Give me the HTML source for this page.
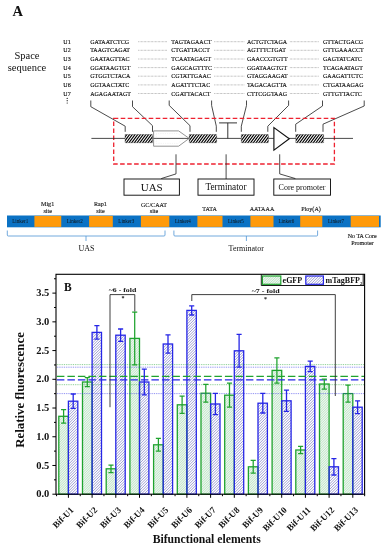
<!DOCTYPE html>
<html><head><meta charset="utf-8"><title>Figure</title>
<style>html,body{margin:0;padding:0;background:#fff}svg{display:block}text{font-family:"Liberation Serif", serif;fill:#111}</style>
</head><body>
<svg width="384" height="550" viewBox="0 0 384 550">
<defs>
</defs>
<rect width="384" height="550" fill="#fff"/>
<text x="12.5" y="15.8" font-size="14.5" font-weight="bold">A</text>
<text x="27" y="59.4" font-size="10.5" text-anchor="middle">Space</text>
<text x="27" y="70.8" font-size="10.5" text-anchor="middle">sequence</text>
<g font-size="6" stroke="#111" stroke-width="0.15">
<text x="63.3" y="43.8">U1</text>
<text x="63.3" y="52.4">U2</text>
<text x="63.3" y="61.1">U3</text>
<text x="63.3" y="69.7">U4</text>
<text x="63.3" y="78.3">U5</text>
<text x="63.3" y="87.0">U6</text>
<text x="63.3" y="95.6">U7</text>
<text x="90.2" y="43.8">GATAATCTCG</text>
<text x="90.2" y="52.4">TAAGTCAGAT</text>
<text x="90.2" y="61.1">GAATAGTTAC</text>
<text x="90.2" y="69.7">GGATAAGTGT</text>
<text x="90.2" y="78.3">GTGGTCTACA</text>
<text x="90.2" y="87.0">GGTAACTATC</text>
<text x="90.2" y="95.6">AGAGAATAGT</text>
<text x="171.3" y="43.8">TAGTAGAACT</text>
<text x="171.3" y="52.4">CTGATTACCT</text>
<text x="171.3" y="61.1">TCAATAGAGT</text>
<text x="171.3" y="69.7">GAGCAGTTTC</text>
<text x="171.3" y="78.3">CGTATTGAAC</text>
<text x="171.3" y="87.0">AGATTTCTAC</text>
<text x="171.3" y="95.6">CGATTACACT</text>
<text x="246.9" y="43.8">ACTGTCTAGA</text>
<text x="246.9" y="52.4">AGTTTCTGAT</text>
<text x="246.9" y="61.1">GAACCGTGTT</text>
<text x="246.9" y="69.7">GGATAAGTGT</text>
<text x="246.9" y="78.3">GTAGGAAGAT</text>
<text x="246.9" y="87.0">TAGACAGTTA</text>
<text x="246.9" y="95.6">CTTCGGTAAG</text>
<text x="323.0" y="43.8">GTTACTGACG</text>
<text x="323.0" y="52.4">GTTGAAACCT</text>
<text x="323.0" y="61.1">GAGTATCATC</text>
<text x="323.0" y="69.7">TCAGAATAGT</text>
<text x="323.0" y="78.3">GAAGATTCTC</text>
<text x="323.0" y="87.0">CTGATAAGAG</text>
<text x="323.0" y="95.6">GTTGTTACTC</text>
</g>
<g fill="#111"><circle cx="67.2" cy="98.4" r="0.6"/><circle cx="67.2" cy="100.7" r="0.6"/><circle cx="67.2" cy="103" r="0.6"/></g>
<g stroke="#777" stroke-width="0.6" stroke-dasharray="0.7 0.7">
<path d="M138.3 41.7H167.5"/>
<path d="M214.3 41.7H244.3"/>
<path d="M289.9 41.7H319.2"/>
<path d="M138.3 50.3H167.5"/>
<path d="M214.3 50.3H244.3"/>
<path d="M289.9 50.3H319.2"/>
<path d="M138.3 59.0H167.5"/>
<path d="M214.3 59.0H244.3"/>
<path d="M289.9 59.0H319.2"/>
<path d="M138.3 67.6H167.5"/>
<path d="M214.3 67.6H244.3"/>
<path d="M289.9 67.6H319.2"/>
<path d="M138.3 76.2H167.5"/>
<path d="M214.3 76.2H244.3"/>
<path d="M289.9 76.2H319.2"/>
<path d="M138.3 84.9H167.5"/>
<path d="M214.3 84.9H244.3"/>
<path d="M289.9 84.9H319.2"/>
<path d="M138.3 93.5H167.5"/>
<path d="M214.3 93.5H244.3"/>
<path d="M289.9 93.5H319.2"/>
</g>
<g fill="none" stroke="#2a2a2a" stroke-width="0.85">
<path d="M90.8 100.5V106.7L125.2 126.2V131.8"/>
<path d="M132.5 100.5V106.7L152.5 125.7V131.8"/>
<path d="M169.2 100.5V105.4L190.0 125.7V131.8"/>
<path d="M211.6 100.5V105.4L216.3 126.2V131.8"/>
<path d="M246.5 100.5V105.4L241.3 126.2V131.8"/>
<path d="M288.6 100.5V105.4L267.8 126.2V131.8"/>
<path d="M322.5 100.5V106.0L295.7 124.2V131.8"/>
<path d="M364.2 100.5V106.0L323.0 124.2V131.8"/>
</g>
<rect x="113.7" y="118.4" width="220.7" height="45.6" fill="none" stroke="#ee2230" stroke-width="1.3" stroke-dasharray="4.6 2.4"/>
<path d="M91.4 138.4H353" stroke="#2a2a2a" stroke-width="0.85"/>
<clipPath id="ck0"><rect x="125.1" y="134.6" width="27.4" height="8.1"/></clipPath>
<rect x="125.1" y="134.6" width="27.4" height="8.1" fill="#fff"/>
<path d="M117.36 143.7L124.84 133.6M120.08 143.7L127.56 133.6M122.80 143.7L130.28 133.6M125.52 143.7L133.00 133.6M128.24 143.7L135.72 133.6M130.96 143.7L138.44 133.6M133.68 143.7L141.16 133.6M136.40 143.7L143.88 133.6M139.12 143.7L146.60 133.6M141.84 143.7L149.32 133.6M144.56 143.7L152.04 133.6M147.28 143.7L154.76 133.6M150.00 143.7L157.48 133.6M152.72 143.7L160.20 133.6" stroke="#000" stroke-width="1.15" clip-path="url(#ck0)"/>
<rect x="125.1" y="134.6" width="27.4" height="8.1" fill="none" stroke="#111" stroke-width="0.5" stroke-dasharray="0.8 0.5"/>
<clipPath id="ck1"><rect x="189.3" y="134.6" width="27.3" height="8.1"/></clipPath>
<rect x="189.3" y="134.6" width="27.3" height="8.1" fill="#fff"/>
<path d="M181.56 143.7L189.04 133.6M184.28 143.7L191.76 133.6M187.00 143.7L194.48 133.6M189.72 143.7L197.20 133.6M192.44 143.7L199.92 133.6M195.16 143.7L202.64 133.6M197.88 143.7L205.36 133.6M200.60 143.7L208.08 133.6M203.32 143.7L210.80 133.6M206.04 143.7L213.52 133.6M208.76 143.7L216.24 133.6M211.48 143.7L218.96 133.6M214.20 143.7L221.68 133.6" stroke="#000" stroke-width="1.15" clip-path="url(#ck1)"/>
<rect x="189.3" y="134.6" width="27.3" height="8.1" fill="none" stroke="#111" stroke-width="0.5" stroke-dasharray="0.8 0.5"/>
<clipPath id="ck2"><rect x="241.3" y="134.6" width="27.1" height="8.1"/></clipPath>
<rect x="241.3" y="134.6" width="27.1" height="8.1" fill="#fff"/>
<path d="M233.56 143.7L241.04 133.6M236.28 143.7L243.76 133.6M239.00 143.7L246.48 133.6M241.72 143.7L249.20 133.6M244.44 143.7L251.92 133.6M247.16 143.7L254.64 133.6M249.88 143.7L257.36 133.6M252.60 143.7L260.08 133.6M255.32 143.7L262.80 133.6M258.04 143.7L265.52 133.6M260.76 143.7L268.24 133.6M263.48 143.7L270.96 133.6M266.20 143.7L273.68 133.6" stroke="#000" stroke-width="1.15" clip-path="url(#ck2)"/>
<rect x="241.3" y="134.6" width="27.1" height="8.1" fill="none" stroke="#111" stroke-width="0.5" stroke-dasharray="0.8 0.5"/>
<clipPath id="ck3"><rect x="295.8" y="134.6" width="27.8" height="8.1"/></clipPath>
<rect x="295.8" y="134.6" width="27.8" height="8.1" fill="#fff"/>
<path d="M288.06 143.7L295.54 133.6M290.78 143.7L298.26 133.6M293.50 143.7L300.98 133.6M296.22 143.7L303.70 133.6M298.94 143.7L306.42 133.6M301.66 143.7L309.14 133.6M304.38 143.7L311.86 133.6M307.10 143.7L314.58 133.6M309.82 143.7L317.30 133.6M312.54 143.7L320.02 133.6M315.26 143.7L322.74 133.6M317.98 143.7L325.46 133.6M320.70 143.7L328.18 133.6M323.42 143.7L330.90 133.6" stroke="#000" stroke-width="1.15" clip-path="url(#ck3)"/>
<rect x="295.8" y="134.6" width="27.8" height="8.1" fill="none" stroke="#111" stroke-width="0.5" stroke-dasharray="0.8 0.5"/>
<path d="M153.6 130.9H178.6L189.2 138.4L178.6 146.2H153.6Z" fill="none" stroke="#777" stroke-width="0.8"/>
<path d="M156.3 133.6H177.8L184.6 138.4L177.8 143.4H156.3Z" fill="none" stroke="#ccc" stroke-width="0.35" stroke-dasharray="0.6 1.2"/>
<path d="M219.1 122.9H237M227.8 122.9V138.5" stroke="#2a2a2a" stroke-width="0.95" fill="none"/>
<path d="M273.9 127.6V150.2L289.3 138.7Z" fill="#fff" stroke="#111" stroke-width="1.15"/>
<g fill="none" stroke="#2a2a2a" stroke-width="0.85">
<path d="M176 154.3V173.9L161.2 178.6"/>
<path d="M226.1 154.3V179"/>
<path d="M279.7 154.3V173.9L295.4 178.6"/>
</g>
<g fill="#fff" stroke="#111" stroke-width="0.95">
<rect x="124" y="179" width="55.4" height="16.2"/>
<rect x="198" y="179" width="56" height="16.2"/>
<rect x="273.8" y="179" width="56.7" height="16.2"/>
</g>
<text x="151.7" y="191" font-size="11" text-anchor="middle">UAS</text>
<text x="226" y="190.2" font-size="9.3" text-anchor="middle">Terminator</text>
<text x="302" y="189.8" font-size="8" text-anchor="middle">Core promoter</text>
<rect x="7" y="215.5" width="373.7" height="11.8" fill="#0b72c4"/>
<rect x="34.40" y="215.9" width="26.85" height="11" fill="#ff9a0a"/>
<rect x="89.10" y="215.9" width="23.70" height="11" fill="#ff9a0a"/>
<rect x="140.90" y="215.9" width="28.40" height="11" fill="#ff9a0a"/>
<rect x="197.40" y="215.9" width="25.10" height="11" fill="#ff9a0a"/>
<rect x="250.40" y="215.9" width="23.10" height="11" fill="#ff9a0a"/>
<rect x="300.20" y="215.9" width="22.10" height="11" fill="#ff9a0a"/>
<rect x="350.70" y="215.9" width="28.30" height="11" fill="#ff9a0a"/>
<g font-size="5.3" text-anchor="middle">
<text x="20.2" y="223.1" fill="#06224a" textLength="16" lengthAdjust="spacingAndGlyphs">Linker1</text>
<text x="74.7" y="223.1" fill="#06224a" textLength="16" lengthAdjust="spacingAndGlyphs">Linker2</text>
<text x="126.3" y="223.1" fill="#06224a" textLength="16" lengthAdjust="spacingAndGlyphs">Linker3</text>
<text x="182.9" y="223.1" fill="#06224a" textLength="16" lengthAdjust="spacingAndGlyphs">Linker4</text>
<text x="235.9" y="223.1" fill="#06224a" textLength="16" lengthAdjust="spacingAndGlyphs">Linker5</text>
<text x="286.4" y="223.1" fill="#06224a" textLength="16" lengthAdjust="spacingAndGlyphs">Linker6</text>
<text x="336.0" y="223.1" fill="#06224a" textLength="16" lengthAdjust="spacingAndGlyphs">Linker7</text>
</g>
<g font-size="6.1" text-anchor="middle" stroke="#111" stroke-width="0.12">
<text x="47.6" y="206">Mig1</text><text x="47.7" y="212.7">site</text>
<text x="100.4" y="205.6">Rap1</text><text x="100.4" y="212.6">site</text>
<text x="154" y="207">GC/CAAT</text><text x="154" y="213.4">site</text>
<text x="209.5" y="211">TATA</text>
<text x="262" y="211.3">AATAAA</text>
<text x="311" y="211">Ploy(A)</text>
<text x="362.2" y="238" font-size="6">No TA Core</text><text x="362.4" y="245.1" font-size="6">Promoter</text>
</g>
<g fill="none" stroke="#4f94d4" stroke-width="0.8">
<path d="M7.3 230.5V235Q7.3 236 8.3 236H164Q165 236 165 235V230.5M86 236V241"/>
<path d="M173.9 230.5V235Q173.9 236 174.9 236H316.6Q317.6 236 317.6 235V230.5M246.4 236V241"/>
</g>
<text x="86.5" y="251.3" font-size="8" text-anchor="middle">UAS</text>
<text x="246.3" y="251.3" font-size="8" text-anchor="middle">Terminator</text>
<clipPath id="cg"><rect x="58.80" y="416.3" width="9.60" height="77.9"/><rect x="82.50" y="382.0" width="9.60" height="112.2"/><rect x="106.20" y="468.8" width="9.60" height="25.4"/><rect x="129.90" y="338.4" width="9.60" height="155.8"/><rect x="153.60" y="444.8" width="9.60" height="49.4"/><rect x="177.30" y="404.8" width="9.60" height="89.4"/><rect x="201.00" y="393.2" width="9.60" height="101.0"/><rect x="224.70" y="395.2" width="9.60" height="99.0"/><rect x="248.40" y="466.8" width="9.60" height="27.4"/><rect x="272.10" y="370.4" width="9.60" height="123.8"/><rect x="295.80" y="450.0" width="9.60" height="44.2"/><rect x="319.50" y="384.0" width="9.60" height="110.2"/><rect x="343.20" y="393.6" width="9.60" height="100.6"/><rect x="262.4" y="276" width="18.4" height="8.3"/></clipPath><clipPath id="cb"><rect x="68.40" y="401.2" width="9.40" height="93.0"/><rect x="92.10" y="332.4" width="9.40" height="161.8"/><rect x="115.80" y="335.2" width="9.40" height="159.0"/><rect x="139.50" y="382.0" width="9.40" height="112.2"/><rect x="163.20" y="344.0" width="9.40" height="150.2"/><rect x="186.90" y="310.4" width="9.40" height="183.8"/><rect x="210.60" y="404.0" width="9.40" height="90.2"/><rect x="234.30" y="350.8" width="9.40" height="143.4"/><rect x="258.00" y="403.2" width="9.40" height="91.0"/><rect x="281.70" y="400.8" width="9.40" height="93.4"/><rect x="305.40" y="366.4" width="9.40" height="127.8"/><rect x="329.10" y="466.8" width="9.40" height="27.4"/><rect x="352.80" y="407.2" width="9.40" height="87.0"/><rect x="305.8" y="276" width="17.6" height="8.3"/></clipPath>
<g fill="#fff"><rect x="58.80" y="416.3" width="9.60" height="77.9"/><rect x="82.50" y="382.0" width="9.60" height="112.2"/><rect x="106.20" y="468.8" width="9.60" height="25.4"/><rect x="129.90" y="338.4" width="9.60" height="155.8"/><rect x="153.60" y="444.8" width="9.60" height="49.4"/><rect x="177.30" y="404.8" width="9.60" height="89.4"/><rect x="201.00" y="393.2" width="9.60" height="101.0"/><rect x="224.70" y="395.2" width="9.60" height="99.0"/><rect x="248.40" y="466.8" width="9.60" height="27.4"/><rect x="272.10" y="370.4" width="9.60" height="123.8"/><rect x="295.80" y="450.0" width="9.60" height="44.2"/><rect x="319.50" y="384.0" width="9.60" height="110.2"/><rect x="343.20" y="393.6" width="9.60" height="100.6"/><rect x="262.4" y="276" width="18.4" height="8.3"/><rect x="68.40" y="401.2" width="9.40" height="93.0"/><rect x="92.10" y="332.4" width="9.40" height="161.8"/><rect x="115.80" y="335.2" width="9.40" height="159.0"/><rect x="139.50" y="382.0" width="9.40" height="112.2"/><rect x="163.20" y="344.0" width="9.40" height="150.2"/><rect x="186.90" y="310.4" width="9.40" height="183.8"/><rect x="210.60" y="404.0" width="9.40" height="90.2"/><rect x="234.30" y="350.8" width="9.40" height="143.4"/><rect x="258.00" y="403.2" width="9.40" height="91.0"/><rect x="281.70" y="400.8" width="9.40" height="93.4"/><rect x="305.40" y="366.4" width="9.40" height="127.8"/><rect x="329.10" y="466.8" width="9.40" height="27.4"/><rect x="352.80" y="407.2" width="9.40" height="87.0"/><rect x="305.8" y="276" width="17.6" height="8.3"/></g>
<path d="M56.0 274.3L56.0 274.3M56.0 276.0L57.7 274.3M56.0 277.7L59.4 274.3M56.0 279.4L61.1 274.3M56.0 281.1L62.8 274.3M56.0 282.8L64.5 274.3M56.0 284.5L66.2 274.3M56.0 286.2L67.9 274.3M56.0 287.9L69.6 274.3M56.0 289.6L71.3 274.3M56.0 291.3L73.0 274.3M56.0 293.0L74.7 274.3M56.0 294.7L76.4 274.3M56.0 296.4L78.1 274.3M56.0 298.1L79.8 274.3M56.0 299.8L81.5 274.3M56.0 301.5L83.2 274.3M56.0 303.2L84.9 274.3M56.0 304.9L86.6 274.3M56.0 306.6L88.3 274.3M56.0 308.3L90.0 274.3M56.0 310.0L91.7 274.3M56.0 311.7L93.4 274.3M56.0 313.4L95.1 274.3M56.0 315.1L96.8 274.3M56.0 316.8L98.5 274.3M56.0 318.5L100.2 274.3M56.0 320.2L101.9 274.3M56.0 321.9L103.6 274.3M56.0 323.6L105.3 274.3M56.0 325.3L107.0 274.3M56.0 327.0L108.7 274.3M56.0 328.7L110.4 274.3M56.0 330.4L112.1 274.3M56.0 332.1L113.8 274.3M56.0 333.8L115.5 274.3M56.0 335.5L117.2 274.3M56.0 337.2L118.9 274.3M56.0 338.9L120.6 274.3M56.0 340.6L122.3 274.3M56.0 342.3L124.0 274.3M56.0 344.0L125.7 274.3M56.0 345.7L127.4 274.3M56.0 347.4L129.1 274.3M56.0 349.1L130.8 274.3M56.0 350.8L132.5 274.3M56.0 352.5L134.2 274.3M56.0 354.2L135.9 274.3M56.0 355.9L137.6 274.3M56.0 357.6L139.3 274.3M56.0 359.3L141.0 274.3M56.0 361.0L142.7 274.3M56.0 362.7L144.4 274.3M56.0 364.4L146.1 274.3M56.0 366.1L147.8 274.3M56.0 367.8L149.5 274.3M56.0 369.5L151.2 274.3M56.0 371.2L152.9 274.3M56.0 372.9L154.6 274.3M56.0 374.6L156.3 274.3M56.0 376.3L158.0 274.3M56.0 378.0L159.7 274.3M56.0 379.7L161.4 274.3M56.0 381.4L163.1 274.3M56.0 383.1L164.8 274.3M56.0 384.8L166.5 274.3M56.0 386.5L168.2 274.3M56.0 388.2L169.9 274.3M56.0 389.9L171.6 274.3M56.0 391.6L173.3 274.3M56.0 393.3L175.0 274.3M56.0 395.0L176.7 274.3M56.0 396.7L178.4 274.3M56.0 398.4L180.1 274.3M56.0 400.1L181.8 274.3M56.0 401.8L183.5 274.3M56.0 403.5L185.2 274.3M56.0 405.2L186.9 274.3M56.0 406.9L188.6 274.3M56.0 408.6L190.3 274.3M56.0 410.3L192.0 274.3M56.0 412.0L193.7 274.3M56.0 413.7L195.4 274.3M56.0 415.4L197.1 274.3M56.0 417.1L198.8 274.3M56.0 418.8L200.5 274.3M56.0 420.5L202.2 274.3M56.0 422.2L203.9 274.3M56.0 423.9L205.6 274.3M56.0 425.6L207.3 274.3M56.0 427.3L209.0 274.3M56.0 429.0L210.7 274.3M56.0 430.7L212.4 274.3M56.0 432.4L214.1 274.3M56.0 434.1L215.8 274.3M56.0 435.8L217.5 274.3M56.0 437.5L219.2 274.3M56.0 439.2L220.9 274.3M56.0 440.9L222.6 274.3M56.0 442.6L224.3 274.3M56.0 444.3L226.0 274.3M56.0 446.0L227.7 274.3M56.0 447.7L229.4 274.3M56.0 449.4L231.1 274.3M56.0 451.1L232.8 274.3M56.0 452.8L234.5 274.3M56.0 454.5L236.2 274.3M56.0 456.2L237.9 274.3M56.0 457.9L239.6 274.3M56.0 459.6L241.3 274.3M56.0 461.3L243.0 274.3M56.0 463.0L244.7 274.3M56.0 464.7L246.4 274.3M56.0 466.4L248.1 274.3M56.0 468.1L249.8 274.3M56.0 469.8L251.5 274.3M56.0 471.5L253.2 274.3M56.0 473.2L254.9 274.3M56.0 474.9L256.6 274.3M56.0 476.6L258.3 274.3M56.0 478.3L260.0 274.3M56.0 480.0L261.7 274.3M56.0 481.7L263.4 274.3M56.0 483.4L265.1 274.3M56.0 485.1L266.8 274.3M56.0 486.8L268.5 274.3M56.0 488.5L270.2 274.3M56.0 490.2L271.9 274.3M56.0 491.9L273.6 274.3M56.0 493.6L275.3 274.3M57.1 494.2L277.0 274.3M58.8 494.2L278.7 274.3M60.5 494.2L280.4 274.3M62.2 494.2L282.1 274.3M63.9 494.2L283.8 274.3M65.6 494.2L285.5 274.3M67.3 494.2L287.2 274.3M69.0 494.2L288.9 274.3M70.7 494.2L290.6 274.3M72.4 494.2L292.3 274.3M74.1 494.2L294.0 274.3M75.8 494.2L295.7 274.3M77.5 494.2L297.4 274.3M79.2 494.2L299.1 274.3M80.9 494.2L300.8 274.3M82.6 494.2L302.5 274.3M84.3 494.2L304.2 274.3M86.0 494.2L305.9 274.3M87.7 494.2L307.6 274.3M89.4 494.2L309.3 274.3M91.1 494.2L311.0 274.3M92.8 494.2L312.7 274.3M94.5 494.2L314.4 274.3M96.2 494.2L316.1 274.3M97.9 494.2L317.8 274.3M99.6 494.2L319.5 274.3M101.3 494.2L321.2 274.3M103.0 494.2L322.9 274.3M104.7 494.2L324.6 274.3M106.4 494.2L326.3 274.3M108.1 494.2L328.0 274.3M109.8 494.2L329.7 274.3M111.5 494.2L331.4 274.3M113.2 494.2L333.1 274.3M114.9 494.2L334.8 274.3M116.6 494.2L336.5 274.3M118.3 494.2L338.2 274.3M120.0 494.2L339.9 274.3M121.7 494.2L341.6 274.3M123.4 494.2L343.3 274.3M125.1 494.2L345.0 274.3M126.8 494.2L346.7 274.3M128.5 494.2L348.4 274.3M130.2 494.2L350.1 274.3M131.9 494.2L351.8 274.3M133.6 494.2L353.5 274.3M135.3 494.2L355.2 274.3M137.0 494.2L356.9 274.3M138.7 494.2L358.6 274.3M140.4 494.2L360.3 274.3M142.1 494.2L362.0 274.3M143.8 494.2L363.7 274.3M145.5 494.2L364.6 275.1M147.2 494.2L364.6 276.8M148.9 494.2L364.6 278.5M150.6 494.2L364.6 280.2M152.3 494.2L364.6 281.9M154.0 494.2L364.6 283.6M155.7 494.2L364.6 285.3M157.4 494.2L364.6 287.0M159.1 494.2L364.6 288.7M160.8 494.2L364.6 290.4M162.5 494.2L364.6 292.1M164.2 494.2L364.6 293.8M165.9 494.2L364.6 295.5M167.6 494.2L364.6 297.2M169.3 494.2L364.6 298.9M171.0 494.2L364.6 300.6M172.7 494.2L364.6 302.3M174.4 494.2L364.6 304.0M176.1 494.2L364.6 305.7M177.8 494.2L364.6 307.4M179.5 494.2L364.6 309.1M181.2 494.2L364.6 310.8M182.9 494.2L364.6 312.5M184.6 494.2L364.6 314.2M186.3 494.2L364.6 315.9M188.0 494.2L364.6 317.6M189.7 494.2L364.6 319.3M191.4 494.2L364.6 321.0M193.1 494.2L364.6 322.7M194.8 494.2L364.6 324.4M196.5 494.2L364.6 326.1M198.2 494.2L364.6 327.8M199.9 494.2L364.6 329.5M201.6 494.2L364.6 331.2M203.3 494.2L364.6 332.9M205.0 494.2L364.6 334.6M206.7 494.2L364.6 336.3M208.4 494.2L364.6 338.0M210.1 494.2L364.6 339.7M211.8 494.2L364.6 341.4M213.5 494.2L364.6 343.1M215.2 494.2L364.6 344.8M216.9 494.2L364.6 346.5M218.6 494.2L364.6 348.2M220.3 494.2L364.6 349.9M222.0 494.2L364.6 351.6M223.7 494.2L364.6 353.3M225.4 494.2L364.6 355.0M227.1 494.2L364.6 356.7M228.8 494.2L364.6 358.4M230.5 494.2L364.6 360.1M232.2 494.2L364.6 361.8M233.9 494.2L364.6 363.5M235.6 494.2L364.6 365.2M237.3 494.2L364.6 366.9M239.0 494.2L364.6 368.6M240.7 494.2L364.6 370.3M242.4 494.2L364.6 372.0M244.1 494.2L364.6 373.7M245.8 494.2L364.6 375.4M247.5 494.2L364.6 377.1M249.2 494.2L364.6 378.8M250.9 494.2L364.6 380.5M252.6 494.2L364.6 382.2M254.3 494.2L364.6 383.9M256.0 494.2L364.6 385.6M257.7 494.2L364.6 387.3M259.4 494.2L364.6 389.0M261.1 494.2L364.6 390.7M262.8 494.2L364.6 392.4M264.5 494.2L364.6 394.1M266.2 494.2L364.6 395.8M267.9 494.2L364.6 397.5M269.6 494.2L364.6 399.2M271.3 494.2L364.6 400.9M273.0 494.2L364.6 402.6M274.7 494.2L364.6 404.3M276.4 494.2L364.6 406.0M278.1 494.2L364.6 407.7M279.8 494.2L364.6 409.4M281.5 494.2L364.6 411.1M283.2 494.2L364.6 412.8M284.9 494.2L364.6 414.5M286.6 494.2L364.6 416.2M288.3 494.2L364.6 417.9M290.0 494.2L364.6 419.6M291.7 494.2L364.6 421.3M293.4 494.2L364.6 423.0M295.1 494.2L364.6 424.7M296.8 494.2L364.6 426.4M298.5 494.2L364.6 428.1M300.2 494.2L364.6 429.8M301.9 494.2L364.6 431.5M303.6 494.2L364.6 433.2M305.3 494.2L364.6 434.9M307.0 494.2L364.6 436.6M308.7 494.2L364.6 438.3M310.4 494.2L364.6 440.0M312.1 494.2L364.6 441.7M313.8 494.2L364.6 443.4M315.5 494.2L364.6 445.1M317.2 494.2L364.6 446.8M318.9 494.2L364.6 448.5M320.6 494.2L364.6 450.2M322.3 494.2L364.6 451.9M324.0 494.2L364.6 453.6M325.7 494.2L364.6 455.3M327.4 494.2L364.6 457.0M329.1 494.2L364.6 458.7M330.8 494.2L364.6 460.4M332.5 494.2L364.6 462.1M334.2 494.2L364.6 463.8M335.9 494.2L364.6 465.5M337.6 494.2L364.6 467.2M339.3 494.2L364.6 468.9M341.0 494.2L364.6 470.6M342.7 494.2L364.6 472.3M344.4 494.2L364.6 474.0M346.1 494.2L364.6 475.7M347.8 494.2L364.6 477.4M349.5 494.2L364.6 479.1M351.2 494.2L364.6 480.8M352.9 494.2L364.6 482.5M354.6 494.2L364.6 484.2M356.3 494.2L364.6 485.9M358.0 494.2L364.6 487.6M359.7 494.2L364.6 489.3M361.4 494.2L364.6 491.0M363.1 494.2L364.6 492.7" stroke="#58b86c" stroke-width="0.38" fill="none" clip-path="url(#cg)"/>
<path d="M56.0 274.3L56.0 274.3M56.0 277.0L58.7 274.3M56.0 279.7L61.4 274.3M56.0 282.4L64.1 274.3M56.0 285.1L66.8 274.3M56.0 287.8L69.5 274.3M56.0 290.5L72.2 274.3M56.0 293.2L74.9 274.3M56.0 295.9L77.6 274.3M56.0 298.6L80.3 274.3M56.0 301.3L83.0 274.3M56.0 304.0L85.7 274.3M56.0 306.7L88.4 274.3M56.0 309.4L91.1 274.3M56.0 312.1L93.8 274.3M56.0 314.8L96.5 274.3M56.0 317.5L99.2 274.3M56.0 320.2L101.9 274.3M56.0 322.9L104.6 274.3M56.0 325.6L107.3 274.3M56.0 328.3L110.0 274.3M56.0 331.0L112.7 274.3M56.0 333.7L115.4 274.3M56.0 336.4L118.1 274.3M56.0 339.1L120.8 274.3M56.0 341.8L123.5 274.3M56.0 344.5L126.2 274.3M56.0 347.2L128.9 274.3M56.0 349.9L131.6 274.3M56.0 352.6L134.3 274.3M56.0 355.3L137.0 274.3M56.0 358.0L139.7 274.3M56.0 360.7L142.4 274.3M56.0 363.4L145.1 274.3M56.0 366.1L147.8 274.3M56.0 368.8L150.5 274.3M56.0 371.5L153.2 274.3M56.0 374.2L155.9 274.3M56.0 376.9L158.6 274.3M56.0 379.6L161.3 274.3M56.0 382.3L164.0 274.3M56.0 385.0L166.7 274.3M56.0 387.7L169.4 274.3M56.0 390.4L172.1 274.3M56.0 393.1L174.8 274.3M56.0 395.8L177.5 274.3M56.0 398.5L180.2 274.3M56.0 401.2L182.9 274.3M56.0 403.9L185.6 274.3M56.0 406.6L188.3 274.3M56.0 409.3L191.0 274.3M56.0 412.0L193.7 274.3M56.0 414.7L196.4 274.3M56.0 417.4L199.1 274.3M56.0 420.1L201.8 274.3M56.0 422.8L204.5 274.3M56.0 425.5L207.2 274.3M56.0 428.2L209.9 274.3M56.0 430.9L212.6 274.3M56.0 433.6L215.3 274.3M56.0 436.3L218.0 274.3M56.0 439.0L220.7 274.3M56.0 441.7L223.4 274.3M56.0 444.4L226.1 274.3M56.0 447.1L228.8 274.3M56.0 449.8L231.5 274.3M56.0 452.5L234.2 274.3M56.0 455.2L236.9 274.3M56.0 457.9L239.6 274.3M56.0 460.6L242.3 274.3M56.0 463.3L245.0 274.3M56.0 466.0L247.7 274.3M56.0 468.7L250.4 274.3M56.0 471.4L253.1 274.3M56.0 474.1L255.8 274.3M56.0 476.8L258.5 274.3M56.0 479.5L261.2 274.3M56.0 482.2L263.9 274.3M56.0 484.9L266.6 274.3M56.0 487.6L269.3 274.3M56.0 490.3L272.0 274.3M56.0 493.0L274.7 274.3M57.5 494.2L277.4 274.3M60.2 494.2L280.1 274.3M62.9 494.2L282.8 274.3M65.6 494.2L285.5 274.3M68.3 494.2L288.2 274.3M71.0 494.2L290.9 274.3M73.7 494.2L293.6 274.3M76.4 494.2L296.3 274.3M79.1 494.2L299.0 274.3M81.8 494.2L301.7 274.3M84.5 494.2L304.4 274.3M87.2 494.2L307.1 274.3M89.9 494.2L309.8 274.3M92.6 494.2L312.5 274.3M95.3 494.2L315.2 274.3M98.0 494.2L317.9 274.3M100.7 494.2L320.6 274.3M103.4 494.2L323.3 274.3M106.1 494.2L326.0 274.3M108.8 494.2L328.7 274.3M111.5 494.2L331.4 274.3M114.2 494.2L334.1 274.3M116.9 494.2L336.8 274.3M119.6 494.2L339.5 274.3M122.3 494.2L342.2 274.3M125.0 494.2L344.9 274.3M127.7 494.2L347.6 274.3M130.4 494.2L350.3 274.3M133.1 494.2L353.0 274.3M135.8 494.2L355.7 274.3M138.5 494.2L358.4 274.3M141.2 494.2L361.1 274.3M143.9 494.2L363.8 274.3M146.6 494.2L364.6 276.2M149.3 494.2L364.6 278.9M152.0 494.2L364.6 281.6M154.7 494.2L364.6 284.3M157.4 494.2L364.6 287.0M160.1 494.2L364.6 289.7M162.8 494.2L364.6 292.4M165.5 494.2L364.6 295.1M168.2 494.2L364.6 297.8M170.9 494.2L364.6 300.5M173.6 494.2L364.6 303.2M176.3 494.2L364.6 305.9M179.0 494.2L364.6 308.6M181.7 494.2L364.6 311.3M184.4 494.2L364.6 314.0M187.1 494.2L364.6 316.7M189.8 494.2L364.6 319.4M192.5 494.2L364.6 322.1M195.2 494.2L364.6 324.8M197.9 494.2L364.6 327.5M200.6 494.2L364.6 330.2M203.3 494.2L364.6 332.9M206.0 494.2L364.6 335.6M208.7 494.2L364.6 338.3M211.4 494.2L364.6 341.0M214.1 494.2L364.6 343.7M216.8 494.2L364.6 346.4M219.5 494.2L364.6 349.1M222.2 494.2L364.6 351.8M224.9 494.2L364.6 354.5M227.6 494.2L364.6 357.2M230.3 494.2L364.6 359.9M233.0 494.2L364.6 362.6M235.7 494.2L364.6 365.3M238.4 494.2L364.6 368.0M241.1 494.2L364.6 370.7M243.8 494.2L364.6 373.4M246.5 494.2L364.6 376.1M249.2 494.2L364.6 378.8M251.9 494.2L364.6 381.5M254.6 494.2L364.6 384.2M257.3 494.2L364.6 386.9M260.0 494.2L364.6 389.6M262.7 494.2L364.6 392.3M265.4 494.2L364.6 395.0M268.1 494.2L364.6 397.7M270.8 494.2L364.6 400.4M273.5 494.2L364.6 403.1M276.2 494.2L364.6 405.8M278.9 494.2L364.6 408.5M281.6 494.2L364.6 411.2M284.3 494.2L364.6 413.9M287.0 494.2L364.6 416.6M289.7 494.2L364.6 419.3M292.4 494.2L364.6 422.0M295.1 494.2L364.6 424.7M297.8 494.2L364.6 427.4M300.5 494.2L364.6 430.1M303.2 494.2L364.6 432.8M305.9 494.2L364.6 435.5M308.6 494.2L364.6 438.2M311.3 494.2L364.6 440.9M314.0 494.2L364.6 443.6M316.7 494.2L364.6 446.3M319.4 494.2L364.6 449.0M322.1 494.2L364.6 451.7M324.8 494.2L364.6 454.4M327.5 494.2L364.6 457.1M330.2 494.2L364.6 459.8M332.9 494.2L364.6 462.5M335.6 494.2L364.6 465.2M338.3 494.2L364.6 467.9M341.0 494.2L364.6 470.6M343.7 494.2L364.6 473.3M346.4 494.2L364.6 476.0M349.1 494.2L364.6 478.7M351.8 494.2L364.6 481.4M354.5 494.2L364.6 484.1M357.2 494.2L364.6 486.8M359.9 494.2L364.6 489.5M362.6 494.2L364.6 492.2" stroke="#7070be" stroke-width="0.68" fill="none" clip-path="url(#cb)"/>
<rect x="58.80" y="416.3" width="9.60" height="77.9" fill="none" stroke="#1fa32e" stroke-width="1.3"/>
<rect x="68.40" y="401.2" width="9.40" height="93.0" fill="none" stroke="#2626e6" stroke-width="1.3"/>
<rect x="82.50" y="382.0" width="9.60" height="112.2" fill="none" stroke="#1fa32e" stroke-width="1.3"/>
<rect x="92.10" y="332.4" width="9.40" height="161.8" fill="none" stroke="#2626e6" stroke-width="1.3"/>
<rect x="106.20" y="468.8" width="9.60" height="25.4" fill="none" stroke="#1fa32e" stroke-width="1.3"/>
<rect x="115.80" y="335.2" width="9.40" height="159.0" fill="none" stroke="#2626e6" stroke-width="1.3"/>
<rect x="129.90" y="338.4" width="9.60" height="155.8" fill="none" stroke="#1fa32e" stroke-width="1.3"/>
<rect x="139.50" y="382.0" width="9.40" height="112.2" fill="none" stroke="#2626e6" stroke-width="1.3"/>
<rect x="153.60" y="444.8" width="9.60" height="49.4" fill="none" stroke="#1fa32e" stroke-width="1.3"/>
<rect x="163.20" y="344.0" width="9.40" height="150.2" fill="none" stroke="#2626e6" stroke-width="1.3"/>
<rect x="177.30" y="404.8" width="9.60" height="89.4" fill="none" stroke="#1fa32e" stroke-width="1.3"/>
<rect x="186.90" y="310.4" width="9.40" height="183.8" fill="none" stroke="#2626e6" stroke-width="1.3"/>
<rect x="201.00" y="393.2" width="9.60" height="101.0" fill="none" stroke="#1fa32e" stroke-width="1.3"/>
<rect x="210.60" y="404.0" width="9.40" height="90.2" fill="none" stroke="#2626e6" stroke-width="1.3"/>
<rect x="224.70" y="395.2" width="9.60" height="99.0" fill="none" stroke="#1fa32e" stroke-width="1.3"/>
<rect x="234.30" y="350.8" width="9.40" height="143.4" fill="none" stroke="#2626e6" stroke-width="1.3"/>
<rect x="248.40" y="466.8" width="9.60" height="27.4" fill="none" stroke="#1fa32e" stroke-width="1.3"/>
<rect x="258.00" y="403.2" width="9.40" height="91.0" fill="none" stroke="#2626e6" stroke-width="1.3"/>
<rect x="272.10" y="370.4" width="9.60" height="123.8" fill="none" stroke="#1fa32e" stroke-width="1.3"/>
<rect x="281.70" y="400.8" width="9.40" height="93.4" fill="none" stroke="#2626e6" stroke-width="1.3"/>
<rect x="295.80" y="450.0" width="9.60" height="44.2" fill="none" stroke="#1fa32e" stroke-width="1.3"/>
<rect x="305.40" y="366.4" width="9.40" height="127.8" fill="none" stroke="#2626e6" stroke-width="1.3"/>
<rect x="319.50" y="384.0" width="9.60" height="110.2" fill="none" stroke="#1fa32e" stroke-width="1.3"/>
<rect x="329.10" y="466.8" width="9.40" height="27.4" fill="none" stroke="#2626e6" stroke-width="1.3"/>
<rect x="343.20" y="393.6" width="9.60" height="100.6" fill="none" stroke="#1fa32e" stroke-width="1.3"/>
<rect x="352.80" y="407.2" width="9.40" height="87.0" fill="none" stroke="#2626e6" stroke-width="1.3"/>
<g fill="none">
<path d="M56.9 364.6H364.6" stroke="#1fa32e" stroke-width="0.7" stroke-dasharray="0.9 0.9" opacity="0.8"/>
<path d="M56.9 384.7H364.6" stroke="#1fa32e" stroke-width="0.7" stroke-dasharray="0.9 0.9" opacity="0.8"/>
<path d="M56.9 367.2H364.6" stroke="#2626e6" stroke-width="0.7" stroke-dasharray="0.9 0.9" opacity="0.8"/>
<path d="M56.9 393.6H364.6" stroke="#2626e6" stroke-width="0.7" stroke-dasharray="0.9 0.9" opacity="0.8"/>
<path d="M56.9 376.3H364.6" stroke="#1fa32e" stroke-width="1.3" stroke-dasharray="7.5 3"/>
<path d="M56.9 379.8H364.6" stroke="#2626e6" stroke-width="1.3" stroke-dasharray="7.5 3"/>
</g>
<path d="M63.60 409.5V423.1M61.05 409.5H66.15M61.05 423.1H66.15" stroke="#1fa32e" stroke-width="1.25" fill="none"/>
<path d="M73.20 394.0V408.4M70.65 394.0H75.75M70.65 408.4H75.75" stroke="#2626e6" stroke-width="1.3" fill="none"/>
<path d="M87.30 377.5V386.5M84.75 377.5H89.85M84.75 386.5H89.85" stroke="#1fa32e" stroke-width="1.25" fill="none"/>
<path d="M96.90 325.6V339.2M94.35 325.6H99.45M94.35 339.2H99.45" stroke="#2626e6" stroke-width="1.3" fill="none"/>
<path d="M111.00 465.0V472.6M108.45 465.0H113.55M108.45 472.6H113.55" stroke="#1fa32e" stroke-width="1.25" fill="none"/>
<path d="M120.60 329.0V341.4M118.05 329.0H123.15M118.05 341.4H123.15" stroke="#2626e6" stroke-width="1.3" fill="none"/>
<path d="M134.70 312.0V364.8M132.15 312.0H137.25M132.15 364.8H137.25" stroke="#1fa32e" stroke-width="1.25" fill="none"/>
<path d="M144.30 369.2V394.8M141.75 369.2H146.85M141.75 394.8H146.85" stroke="#2626e6" stroke-width="1.3" fill="none"/>
<path d="M158.40 438.4V451.2M155.85 438.4H160.95M155.85 451.2H160.95" stroke="#1fa32e" stroke-width="1.25" fill="none"/>
<path d="M168.00 334.8V353.2M165.45 334.8H170.55M165.45 353.2H170.55" stroke="#2626e6" stroke-width="1.3" fill="none"/>
<path d="M182.10 396.2V413.4M179.55 396.2H184.65M179.55 413.4H184.65" stroke="#1fa32e" stroke-width="1.25" fill="none"/>
<path d="M191.70 305.8V315.0M189.15 305.8H194.25M189.15 315.0H194.25" stroke="#2626e6" stroke-width="1.3" fill="none"/>
<path d="M205.80 384.4V402.0M203.25 384.4H208.35M203.25 402.0H208.35" stroke="#1fa32e" stroke-width="1.25" fill="none"/>
<path d="M215.40 393.4V414.6M212.85 393.4H217.95M212.85 414.6H217.95" stroke="#2626e6" stroke-width="1.3" fill="none"/>
<path d="M229.50 383.2V407.2M226.95 383.2H232.05M226.95 407.2H232.05" stroke="#1fa32e" stroke-width="1.25" fill="none"/>
<path d="M239.10 334.4V367.2M236.55 334.4H241.65M236.55 367.2H241.65" stroke="#2626e6" stroke-width="1.3" fill="none"/>
<path d="M253.20 460.4V473.2M250.65 460.4H255.75M250.65 473.2H255.75" stroke="#1fa32e" stroke-width="1.25" fill="none"/>
<path d="M262.80 393.4V413.0M260.25 393.4H265.35M260.25 413.0H265.35" stroke="#2626e6" stroke-width="1.3" fill="none"/>
<path d="M276.90 357.8V383.0M274.35 357.8H279.45M274.35 383.0H279.45" stroke="#1fa32e" stroke-width="1.25" fill="none"/>
<path d="M286.50 390.2V411.4M283.95 390.2H289.05M283.95 411.4H289.05" stroke="#2626e6" stroke-width="1.3" fill="none"/>
<path d="M300.60 446.4V453.6M298.05 446.4H303.15M298.05 453.6H303.15" stroke="#1fa32e" stroke-width="1.25" fill="none"/>
<path d="M310.20 361.2V371.6M307.65 361.2H312.75M307.65 371.6H312.75" stroke="#2626e6" stroke-width="1.3" fill="none"/>
<path d="M324.30 379.0V389.0M321.75 379.0H326.85M321.75 389.0H326.85" stroke="#1fa32e" stroke-width="1.25" fill="none"/>
<path d="M333.90 458.6V475.0M331.35 458.6H336.45M331.35 475.0H336.45" stroke="#2626e6" stroke-width="1.3" fill="none"/>
<path d="M348.00 385.2V402.0M345.45 385.2H350.55M345.45 402.0H350.55" stroke="#1fa32e" stroke-width="1.25" fill="none"/>
<path d="M357.60 400.8V413.6M355.05 400.8H360.15M355.05 413.6H360.15" stroke="#2626e6" stroke-width="1.3" fill="none"/>
<rect x="56.0" y="274.3" width="308.6" height="219.9" fill="none" stroke="#000" stroke-width="1.1"/>
<g stroke="#000" stroke-width="1">
<path d="M52.4 494.20H56.0"/>
<path d="M54.0 479.84H56.0"/>
<path d="M52.4 465.47H56.0"/>
<path d="M54.0 451.11H56.0"/>
<path d="M52.4 436.75H56.0"/>
<path d="M54.0 422.39H56.0"/>
<path d="M52.4 408.02H56.0"/>
<path d="M54.0 393.66H56.0"/>
<path d="M52.4 379.30H56.0"/>
<path d="M54.0 364.94H56.0"/>
<path d="M52.4 350.57H56.0"/>
<path d="M54.0 336.21H56.0"/>
<path d="M52.4 321.85H56.0"/>
<path d="M54.0 307.49H56.0"/>
<path d="M52.4 293.12H56.0"/>
<path d="M54.0 278.76H56.0"/>
<path d="M68.40 494.2V497.8"/>
<path d="M56.55 494.2V496.2"/>
<path d="M92.10 494.2V497.8"/>
<path d="M80.25 494.2V496.2"/>
<path d="M115.80 494.2V497.8"/>
<path d="M103.95 494.2V496.2"/>
<path d="M139.50 494.2V497.8"/>
<path d="M127.65 494.2V496.2"/>
<path d="M163.20 494.2V497.8"/>
<path d="M151.35 494.2V496.2"/>
<path d="M186.90 494.2V497.8"/>
<path d="M175.05 494.2V496.2"/>
<path d="M210.60 494.2V497.8"/>
<path d="M198.75 494.2V496.2"/>
<path d="M234.30 494.2V497.8"/>
<path d="M222.45 494.2V496.2"/>
<path d="M258.00 494.2V497.8"/>
<path d="M246.15 494.2V496.2"/>
<path d="M281.70 494.2V497.8"/>
<path d="M269.85 494.2V496.2"/>
<path d="M305.40 494.2V497.8"/>
<path d="M293.55 494.2V496.2"/>
<path d="M329.10 494.2V497.8"/>
<path d="M317.25 494.2V496.2"/>
<path d="M352.80 494.2V497.8"/>
<path d="M340.95 494.2V496.2"/>
<path d="M364.65 494.2V496.2"/>
</g>
<g font-size="10.5" font-weight="bold" text-anchor="end">
<text x="49.3" y="497.2">0.0</text>
<text x="49.3" y="468.5">0.5</text>
<text x="49.3" y="439.8">1.0</text>
<text x="49.3" y="411.0">1.5</text>
<text x="49.3" y="382.3">2.0</text>
<text x="49.3" y="353.6">2.5</text>
<text x="49.3" y="324.8">3.0</text>
<text x="49.3" y="296.1">3.5</text>
</g>
<text transform="translate(23.7 390) rotate(-90)" font-size="12.85" font-weight="bold" text-anchor="middle">Relative fluorescence</text>
<text x="206.7" y="543.2" font-size="11.7" font-weight="bold" text-anchor="middle">Bifunctional elements</text>
<g font-size="9" font-weight="bold" text-anchor="end">
<text transform="translate(74.2 510.6) rotate(-45)">Bif-U1</text>
<text transform="translate(97.9 510.6) rotate(-45)">Bif-U2</text>
<text transform="translate(121.6 510.6) rotate(-45)">Bif-U3</text>
<text transform="translate(145.3 510.6) rotate(-45)">Bif-U4</text>
<text transform="translate(169.0 510.6) rotate(-45)">Bif-U5</text>
<text transform="translate(192.7 510.6) rotate(-45)">Bif-U6</text>
<text transform="translate(216.4 510.6) rotate(-45)">Bif-U7</text>
<text transform="translate(240.1 510.6) rotate(-45)">Bif-U8</text>
<text transform="translate(263.8 510.6) rotate(-45)">Bif-U9</text>
<text transform="translate(287.5 510.6) rotate(-45)">Bif-U10</text>
<text transform="translate(311.2 510.6) rotate(-45)">Bif-U11</text>
<text transform="translate(334.9 510.6) rotate(-45)">Bif-U12</text>
<text transform="translate(358.6 510.6) rotate(-45)">Bif-U13</text>
</g>
<text x="64" y="290.8" font-size="11.5" font-weight="bold">B</text>
<path d="M261.3 274.3V285.5H364.6M363.2 274.3V285.5" fill="none" stroke="#000" stroke-width="0.9"/>
<rect x="262.4" y="276" width="18.4" height="8.3" fill="none" stroke="#1fa32e" stroke-width="1.2"/>
<rect x="305.8" y="276" width="17.6" height="8.3" fill="none" stroke="#2626e6" stroke-width="1.2"/>
<text x="282.6" y="283.4" font-size="8" font-weight="bold">eGFP</text>
<text x="325.6" y="283.4" font-size="8" font-weight="bold">mTagBFP<tspan font-size="4.5" dy="1.6">2</tspan></text>
<g fill="none" stroke="#2a2a2a" stroke-width="0.9">
<path d="M110 407.2V294.6H134.8V311.5"/>
<path d="M191.8 301V294.6H335.3V396"/>
</g>
<g font-size="7" font-weight="bold" text-anchor="middle">
<text x="122.5" y="291.7" textLength="27.5" lengthAdjust="spacingAndGlyphs">~6 - fold</text><text x="122.9" y="300.4" font-size="6">*</text>
<text x="265.7" y="292.6" textLength="28" lengthAdjust="spacingAndGlyphs">~7 - fold</text><text x="265.5" y="301.3" font-size="6">*</text>
</g>
</svg></body></html>
